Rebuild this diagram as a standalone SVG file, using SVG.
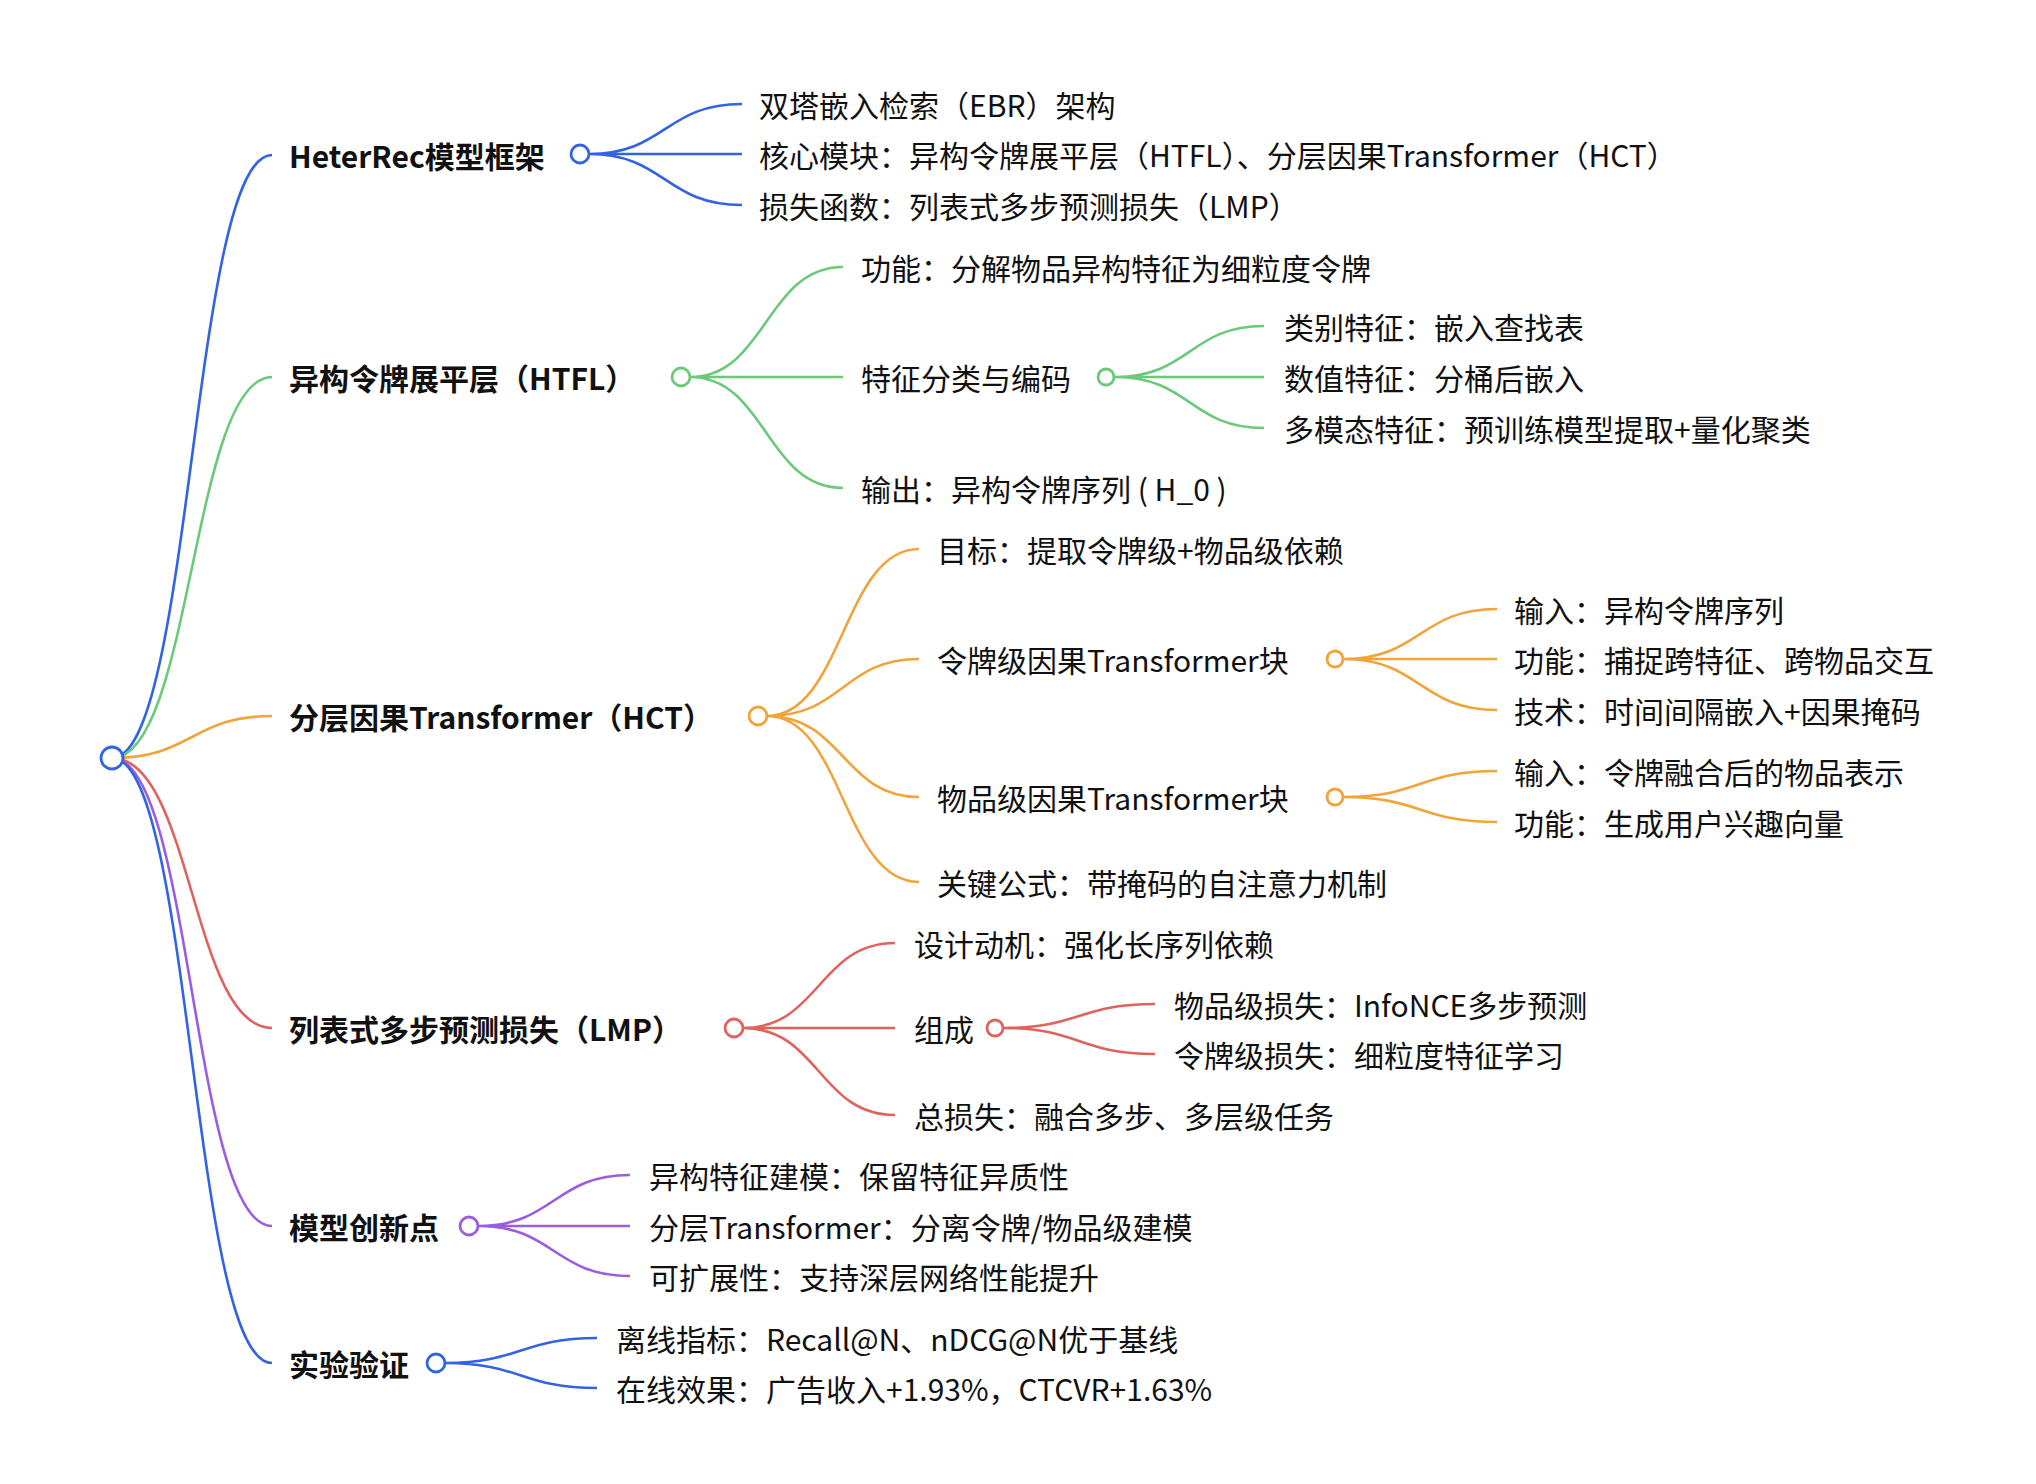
<svg xmlns="http://www.w3.org/2000/svg" width="2036" height="1484" viewBox="0 0 2036 1484">
<style>
text{font-family:"Noto Sans CJK SC","Liberation Sans",sans-serif;font-size:30px;fill:#111;dominant-baseline:central}
.b{font-weight:bold}
path{fill:none;stroke-width:2.6}
circle{fill:#fff;stroke-width:2.8}
.bl{stroke:#3163e3}.gr{stroke:#6cc97a}.or{stroke:#f0a43a}.rd{stroke:#e0625c}.pu{stroke:#9b5de0}
</style>
<rect width="2036" height="1484" fill="#fff"/>
<g id="connectors">
<path class="bl" d="M112,758 C192,758 192,155 272,155"/>
<path class="gr" d="M112,758 C192,758 192,377 272,377"/>
<path class="or" d="M112,758 C192,758 192,716 272,716"/>
<path class="rd" d="M112,758 C192,758 192,1028 272,1028"/>
<path class="pu" d="M112,758 C192,758 192,1226 272,1226"/>
<path class="bl" d="M112,758 C192,758 192,1363 272,1363"/>
<path class="bl" d="M589,154 C665,154 665,104 742,104 M589,154 L742,154 M589,154 C665,154 665,205 742,205"/>
<path class="gr" d="M690,377 C766,377 766,267 843,267 M690,377 L843,377 M690,377 C766,377 766,488 843,488"/>
<path class="gr" d="M1115,377 C1190,377 1190,326 1264,326 M1115,377 L1264,377 M1115,377 C1190,377 1190,428 1264,428"/>
<path class="or" d="M767,716 C843,716 843,549 919,549 M767,716 C843,716 843,659 919,659 M767,716 C843,716 843,797 919,797 M767,716 C843,716 843,882 919,882"/>
<path class="or" d="M1344,659 C1420,659 1420,609 1497,609 M1344,659 L1497,659 M1344,659 C1420,659 1420,710 1497,710"/>
<path class="or" d="M1344,797 C1420,797 1420,771 1497,771 M1344,797 C1420,797 1420,822 1497,822"/>
<path class="rd" d="M743,1028 C819,1028 819,943 895,943 M743,1028 L895,1028 M743,1028 C819,1028 819,1115 895,1115"/>
<path class="rd" d="M1003,1028 C1079,1028 1079,1004 1155,1004 M1003,1028 C1079,1028 1079,1054 1155,1054"/>
<path class="pu" d="M478,1226 C554,1226 554,1175 630,1175 M478,1226 L630,1226 M478,1226 C554,1226 554,1276 630,1276"/>
<path class="bl" d="M445,1363 C521,1363 521,1338 597,1338 M445,1363 C521,1363 521,1388 597,1388"/>
</g>
<g id="root"><circle class="bl" cx="112" cy="758" r="11"/></g>
<g id="n1"><text class="b" x="289" y="155">HeterRec模型框架</text><circle class="bl" cx="580" cy="154" r="9"/></g>
<g id="n1a"><text x="759" y="104">双塔嵌入检索（EBR）架构</text></g>
<g id="n1b"><text x="759" y="154">核心模块：异构令牌展平层（HTFL）、分层因果Transformer（HCT）</text></g>
<g id="n1c"><text x="759" y="205">损失函数：列表式多步预测损失（LMP）</text></g>
<g id="n2"><text class="b" x="289" y="377">异构令牌展平层（HTFL）</text><circle class="gr" cx="681" cy="377" r="9"/></g>
<g id="n2a"><text x="861" y="267">功能：分解物品异构特征为细粒度令牌</text></g>
<g id="n2b"><text x="861" y="377">特征分类与编码</text><circle class="gr" cx="1106" cy="377" r="8"/></g>
<g id="n2b1"><text x="1284" y="326">类别特征：嵌入查找表</text></g>
<g id="n2b2"><text x="1284" y="377">数值特征：分桶后嵌入</text></g>
<g id="n2b3"><text x="1284" y="428">多模态特征：预训练模型提取+量化聚类</text></g>
<g id="n2c"><text x="861" y="488">输出：异构令牌序列 ( H_0 )</text></g>
<g id="n3"><text class="b" x="289" y="716">分层因果Transformer（HCT）</text><circle class="or" cx="758" cy="716" r="9"/></g>
<g id="n3a"><text x="937" y="549">目标：提取令牌级+物品级依赖</text></g>
<g id="n3b"><text x="937" y="659">令牌级因果Transformer块</text><circle class="or" cx="1335" cy="659" r="8"/></g>
<g id="n3b1"><text x="1514" y="609">输入：异构令牌序列</text></g>
<g id="n3b2"><text x="1514" y="659">功能：捕捉跨特征、跨物品交互</text></g>
<g id="n3b3"><text x="1514" y="710">技术：时间间隔嵌入+因果掩码</text></g>
<g id="n3c"><text x="937" y="797">物品级因果Transformer块</text><circle class="or" cx="1335" cy="797" r="8"/></g>
<g id="n3c1"><text x="1514" y="771">输入：令牌融合后的物品表示</text></g>
<g id="n3c2"><text x="1514" y="822">功能：生成用户兴趣向量</text></g>
<g id="n3d"><text x="937" y="882">关键公式：带掩码的自注意力机制</text></g>
<g id="n4"><text class="b" x="289" y="1028">列表式多步预测损失（LMP）</text><circle class="rd" cx="734" cy="1028" r="9"/></g>
<g id="n4a"><text x="914" y="943">设计动机：强化长序列依赖</text></g>
<g id="n4b"><text x="914" y="1028">组成</text><circle class="rd" cx="995" cy="1028" r="8"/></g>
<g id="n4b1"><text x="1174" y="1004">物品级损失：InfoNCE多步预测</text></g>
<g id="n4b2"><text x="1174" y="1054">令牌级损失：细粒度特征学习</text></g>
<g id="n4c"><text x="914" y="1115">总损失：融合多步、多层级任务</text></g>
<g id="n5"><text class="b" x="289" y="1226">模型创新点</text><circle class="pu" cx="469" cy="1226" r="9"/></g>
<g id="n5a"><text x="649" y="1175">异构特征建模：保留特征异质性</text></g>
<g id="n5b"><text x="649" y="1226">分层Transformer：分离令牌/物品级建模</text></g>
<g id="n5c"><text x="649" y="1276">可扩展性：支持深层网络性能提升</text></g>
<g id="n6"><text class="b" x="289" y="1363">实验验证</text><circle class="bl" cx="436" cy="1363" r="9"/></g>
<g id="n6a"><text x="616" y="1338">离线指标：Recall@N、nDCG@N优于基线</text></g>
<g id="n6b"><text x="616" y="1388">在线效果：广告收入+1.93%，CTCVR+1.63%</text></g>
</svg>
